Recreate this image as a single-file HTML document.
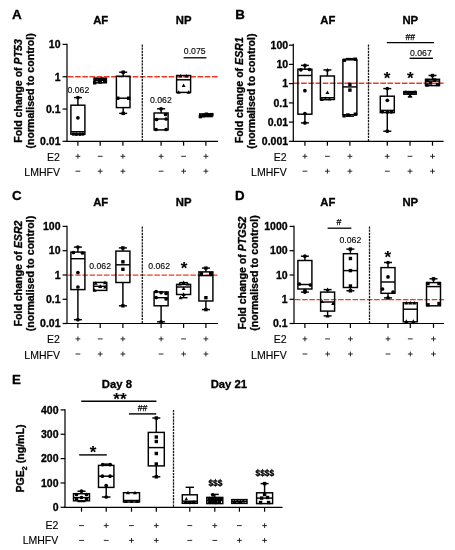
<!DOCTYPE html>
<html><head><meta charset="utf-8"><title>Figure</title>
<style>
html,body{margin:0;padding:0;background:#fff;}
body{width:455px;height:550px;overflow:hidden;}
svg{display:block;filter:blur(0.35px);font-family:"Liberation Sans",sans-serif;fill:#000;}
text[font-weight="bold"]{stroke:#000;stroke-width:0.32px;stroke-linejoin:round;}
text[font-weight="normal"]{stroke:#000;stroke-width:0.12px;}
</style></head><body>
<svg width="455" height="550" viewBox="0 0 455 550">
<rect width="455" height="550" fill="#fff"/>
<text x="11.90" y="18.70" font-size="13.5" font-weight="bold" text-anchor="start" >A</text>
<text x="100.70" y="24.00" font-size="11.3" font-weight="bold" text-anchor="middle" >AF</text>
<text x="183.60" y="24.00" font-size="11.3" font-weight="bold" text-anchor="middle" >NP</text>
<text transform="translate(21.50,90.90) rotate(-90)" font-size="10.6" font-weight="bold" text-anchor="middle">Fold change of <tspan font-style="italic">PT53</tspan></text>
<text transform="translate(33.80,90.90) rotate(-90)" font-size="10.6" font-weight="bold" text-anchor="middle">(normalised to control)</text>
<line x1="67.00" y1="76.75" x2="218.00" y2="76.75" stroke="#ee3a24" stroke-width="1.4" stroke-dasharray="5.6 1.6" stroke-dashoffset="6.3"/>
<line x1="142.30" y1="44.40" x2="142.30" y2="141.30" stroke="#1a1a1a" stroke-width="1.3" stroke-dasharray="2.3 0.85"/>
<line x1="77.90" y1="97.60" x2="77.90" y2="105.20" stroke="#000" stroke-width="1.45" />
<line x1="73.90" y1="97.60" x2="81.90" y2="97.60" stroke="#000" stroke-width="1.45" />
<rect x="70.90" y="105.20" width="14.00" height="29.00" fill="none" stroke="#000" stroke-width="1.45"/>
<line x1="70.90" y1="131.70" x2="84.90" y2="131.70" stroke="#000" stroke-width="1.45" />
<circle cx="77.90" cy="97.60" r="1.85" fill="#000"/>
<circle cx="77.90" cy="117.80" r="1.85" fill="#000"/>
<circle cx="73.40" cy="134.00" r="1.85" fill="#000"/>
<circle cx="76.40" cy="134.20" r="1.85" fill="#000"/>
<circle cx="79.90" cy="134.20" r="1.85" fill="#000"/>
<circle cx="82.90" cy="134.00" r="1.85" fill="#000"/>
<rect x="94.00" y="78.30" width="12.40" height="4.50" fill="none" stroke="#000" stroke-width="1.45"/>
<line x1="94.00" y1="80.40" x2="106.40" y2="80.40" stroke="#000" stroke-width="1.45" />
<rect x="94.00" y="77.60" width="3.40" height="3.40" fill="#000"/>
<rect x="97.50" y="78.80" width="3.40" height="3.40" fill="#000"/>
<rect x="100.50" y="77.50" width="3.40" height="3.40" fill="#000"/>
<rect x="103.50" y="77.90" width="3.40" height="3.40" fill="#000"/>
<rect x="93.00" y="81.10" width="3.40" height="3.40" fill="#000"/>
<rect x="98.50" y="80.30" width="3.40" height="3.40" fill="#000"/>
<rect x="103.00" y="79.30" width="3.40" height="3.40" fill="#000"/>
<line x1="123.20" y1="72.20" x2="123.20" y2="76.20" stroke="#000" stroke-width="1.45" />
<line x1="119.20" y1="72.20" x2="127.20" y2="72.20" stroke="#000" stroke-width="1.45" />
<line x1="123.20" y1="107.60" x2="123.20" y2="113.40" stroke="#000" stroke-width="1.45" />
<line x1="119.20" y1="113.40" x2="127.20" y2="113.40" stroke="#000" stroke-width="1.45" />
<rect x="116.40" y="76.20" width="13.60" height="31.40" fill="none" stroke="#000" stroke-width="1.45"/>
<line x1="116.40" y1="98.20" x2="130.00" y2="98.20" stroke="#000" stroke-width="1.45" />
<rect x="121.50" y="70.50" width="3.40" height="3.40" fill="#000"/>
<rect x="116.00" y="96.50" width="3.40" height="3.40" fill="#000"/>
<rect x="127.00" y="96.50" width="3.40" height="3.40" fill="#000"/>
<rect x="121.50" y="111.70" width="3.40" height="3.40" fill="#000"/>
<line x1="161.10" y1="108.80" x2="161.10" y2="113.00" stroke="#000" stroke-width="1.45" />
<line x1="157.10" y1="108.80" x2="165.10" y2="108.80" stroke="#000" stroke-width="1.45" />
<rect x="154.10" y="113.00" width="14.00" height="16.90" fill="none" stroke="#000" stroke-width="1.45"/>
<line x1="154.10" y1="119.00" x2="168.10" y2="119.00" stroke="#000" stroke-width="1.45" />
<circle cx="161.10" cy="108.80" r="1.85" fill="#000"/>
<circle cx="165.60" cy="114.50" r="1.85" fill="#000"/>
<circle cx="156.60" cy="119.50" r="1.85" fill="#000"/>
<circle cx="166.10" cy="119.00" r="1.85" fill="#000"/>
<circle cx="156.10" cy="129.50" r="1.85" fill="#000"/>
<circle cx="166.10" cy="129.50" r="1.85" fill="#000"/>
<rect x="176.60" y="75.50" width="14.00" height="16.90" fill="none" stroke="#000" stroke-width="1.45"/>
<line x1="176.60" y1="79.80" x2="190.60" y2="79.80" stroke="#000" stroke-width="1.45" />
<polygon points="180.60,74.00 178.60,77.60 182.60,77.60" fill="#000"/>
<polygon points="186.60,74.00 184.60,77.60 188.60,77.60" fill="#000"/>
<polygon points="183.60,83.50 181.60,87.10 185.60,87.10" fill="#000"/>
<polygon points="178.60,90.20 176.60,93.80 180.60,93.80" fill="#000"/>
<polygon points="188.60,90.20 186.60,93.80 190.60,93.80" fill="#000"/>
<rect x="199.70" y="113.90" width="12.40" height="2.70" fill="none" stroke="#000" stroke-width="1.45"/>
<line x1="199.70" y1="115.20" x2="212.10" y2="115.20" stroke="#000" stroke-width="1.45" />
<rect x="198.70" y="114.90" width="3.40" height="3.40" fill="#000"/>
<rect x="201.70" y="113.90" width="3.40" height="3.40" fill="#000"/>
<rect x="204.70" y="112.50" width="3.40" height="3.40" fill="#000"/>
<rect x="207.70" y="113.10" width="3.40" height="3.40" fill="#000"/>
<rect x="210.20" y="112.90" width="3.40" height="3.40" fill="#000"/>
<line x1="67.00" y1="43.80" x2="67.00" y2="141.90" stroke="#000" stroke-width="1.22" />
<line x1="66.40" y1="141.30" x2="218.00" y2="141.30" stroke="#000" stroke-width="1.22" />
<line x1="62.60" y1="44.40" x2="67.00" y2="44.40" stroke="#000" stroke-width="1.22" />
<text x="60.50" y="48.18" font-size="10.5" font-weight="bold" text-anchor="end" >10</text>
<line x1="62.60" y1="76.75" x2="67.00" y2="76.75" stroke="#000" stroke-width="1.22" />
<text x="60.50" y="80.53" font-size="10.5" font-weight="bold" text-anchor="end" >1</text>
<line x1="62.60" y1="109.05" x2="67.00" y2="109.05" stroke="#000" stroke-width="1.22" />
<text x="60.50" y="112.83" font-size="10.5" font-weight="bold" text-anchor="end" >0.1</text>
<line x1="62.60" y1="141.30" x2="67.00" y2="141.30" stroke="#000" stroke-width="1.22" />
<text x="60.50" y="145.08" font-size="10.5" font-weight="bold" text-anchor="end" >0.01</text>
<line x1="77.90" y1="141.30" x2="77.90" y2="145.70" stroke="#000" stroke-width="1.22" />
<line x1="100.20" y1="141.30" x2="100.20" y2="145.70" stroke="#000" stroke-width="1.22" />
<line x1="122.90" y1="141.30" x2="122.90" y2="145.70" stroke="#000" stroke-width="1.22" />
<line x1="161.10" y1="141.30" x2="161.10" y2="145.70" stroke="#000" stroke-width="1.22" />
<line x1="183.60" y1="141.30" x2="183.60" y2="145.70" stroke="#000" stroke-width="1.22" />
<line x1="205.90" y1="141.30" x2="205.90" y2="145.70" stroke="#000" stroke-width="1.22" />
<text x="78.40" y="93.20" font-size="8.7" font-weight="normal" text-anchor="middle" >0.062</text>
<text x="160.90" y="102.80" font-size="8.7" font-weight="normal" text-anchor="middle" >0.062</text>
<text x="194.70" y="53.60" font-size="8.7" font-weight="normal" text-anchor="middle" >0.075</text>
<line x1="183.60" y1="57.80" x2="206.40" y2="57.80" stroke="#000" stroke-width="1.3" />
<text x="59.90" y="160.88" font-size="10.5" font-weight="normal" text-anchor="end" >E2</text>
<text x="59.90" y="175.78" font-size="10.5" font-weight="normal" text-anchor="end" >LMHFV</text>
<line x1="75.50" y1="156.30" x2="80.30" y2="156.30" stroke="#202020" stroke-width="0.95" />
<line x1="77.90" y1="153.90" x2="77.90" y2="158.70" stroke="#202020" stroke-width="0.95" />
<line x1="75.50" y1="171.20" x2="80.30" y2="171.20" stroke="#202020" stroke-width="0.95" />
<line x1="97.80" y1="156.30" x2="102.60" y2="156.30" stroke="#202020" stroke-width="0.95" />
<line x1="97.80" y1="171.20" x2="102.60" y2="171.20" stroke="#202020" stroke-width="0.95" />
<line x1="100.20" y1="168.80" x2="100.20" y2="173.60" stroke="#202020" stroke-width="0.95" />
<line x1="120.50" y1="156.30" x2="125.30" y2="156.30" stroke="#202020" stroke-width="0.95" />
<line x1="122.90" y1="153.90" x2="122.90" y2="158.70" stroke="#202020" stroke-width="0.95" />
<line x1="120.50" y1="171.20" x2="125.30" y2="171.20" stroke="#202020" stroke-width="0.95" />
<line x1="122.90" y1="168.80" x2="122.90" y2="173.60" stroke="#202020" stroke-width="0.95" />
<line x1="158.70" y1="156.30" x2="163.50" y2="156.30" stroke="#202020" stroke-width="0.95" />
<line x1="161.10" y1="153.90" x2="161.10" y2="158.70" stroke="#202020" stroke-width="0.95" />
<line x1="158.70" y1="171.20" x2="163.50" y2="171.20" stroke="#202020" stroke-width="0.95" />
<line x1="181.20" y1="156.30" x2="186.00" y2="156.30" stroke="#202020" stroke-width="0.95" />
<line x1="181.20" y1="171.20" x2="186.00" y2="171.20" stroke="#202020" stroke-width="0.95" />
<line x1="183.60" y1="168.80" x2="183.60" y2="173.60" stroke="#202020" stroke-width="0.95" />
<line x1="203.50" y1="156.30" x2="208.30" y2="156.30" stroke="#202020" stroke-width="0.95" />
<line x1="205.90" y1="153.90" x2="205.90" y2="158.70" stroke="#202020" stroke-width="0.95" />
<line x1="203.50" y1="171.20" x2="208.30" y2="171.20" stroke="#202020" stroke-width="0.95" />
<line x1="205.90" y1="168.80" x2="205.90" y2="173.60" stroke="#202020" stroke-width="0.95" />
<text x="235.30" y="19.00" font-size="13.3" font-weight="bold" text-anchor="start" >B</text>
<text x="327.80" y="24.00" font-size="11.3" font-weight="bold" text-anchor="middle" >AF</text>
<text x="410.30" y="24.00" font-size="11.3" font-weight="bold" text-anchor="middle" >NP</text>
<text transform="translate(243.10,90.20) rotate(-90)" font-size="10.6" font-weight="bold" text-anchor="middle">Fold change of <tspan font-style="italic">ESR1</tspan></text>
<text transform="translate(254.80,91.20) rotate(-90)" font-size="10.6" font-weight="bold" text-anchor="middle">(normalised to control)</text>
<line x1="293.00" y1="83.30" x2="443.60" y2="83.30" stroke="#ee3a24" stroke-width="1.4" stroke-dasharray="5.6 1.6" stroke-dashoffset="6.3"/>
<line x1="368.50" y1="44.40" x2="368.50" y2="141.30" stroke="#1a1a1a" stroke-width="1.3" stroke-dasharray="2.3 0.85"/>
<line x1="304.90" y1="65.40" x2="304.90" y2="69.20" stroke="#000" stroke-width="1.45" />
<line x1="300.90" y1="65.40" x2="308.90" y2="65.40" stroke="#000" stroke-width="1.45" />
<line x1="304.90" y1="114.20" x2="304.90" y2="122.90" stroke="#000" stroke-width="1.45" />
<line x1="300.90" y1="122.90" x2="308.90" y2="122.90" stroke="#000" stroke-width="1.45" />
<rect x="297.90" y="69.20" width="14.00" height="45.00" fill="none" stroke="#000" stroke-width="1.45"/>
<line x1="297.90" y1="75.50" x2="311.90" y2="75.50" stroke="#000" stroke-width="1.45" />
<circle cx="304.90" cy="65.40" r="1.85" fill="#000"/>
<circle cx="309.40" cy="69.50" r="1.85" fill="#000"/>
<circle cx="300.90" cy="69.80" r="1.85" fill="#000"/>
<circle cx="304.90" cy="90.70" r="1.85" fill="#000"/>
<circle cx="304.90" cy="113.50" r="1.85" fill="#000"/>
<circle cx="304.90" cy="122.90" r="1.85" fill="#000"/>
<line x1="327.40" y1="69.90" x2="327.40" y2="76.00" stroke="#000" stroke-width="1.45" />
<line x1="323.40" y1="69.90" x2="331.40" y2="69.90" stroke="#000" stroke-width="1.45" />
<rect x="320.40" y="76.00" width="14.00" height="23.50" fill="none" stroke="#000" stroke-width="1.45"/>
<line x1="320.40" y1="97.70" x2="334.40" y2="97.70" stroke="#000" stroke-width="1.45" />
<polygon points="327.40,67.90 325.40,71.50 329.40,71.50" fill="#000"/>
<polygon points="327.40,90.40 325.40,94.00 329.40,94.00" fill="#000"/>
<polygon points="321.90,97.50 319.90,101.10 323.90,101.10" fill="#000"/>
<polygon points="325.40,96.60 323.40,100.20 327.40,100.20" fill="#000"/>
<polygon points="329.40,96.80 327.40,100.40 331.40,100.40" fill="#000"/>
<line x1="349.90" y1="58.60" x2="349.90" y2="59.80" stroke="#000" stroke-width="1.45" />
<line x1="345.90" y1="58.60" x2="353.90" y2="58.60" stroke="#000" stroke-width="1.45" />
<line x1="349.90" y1="114.70" x2="349.90" y2="116.20" stroke="#000" stroke-width="1.45" />
<line x1="345.90" y1="116.20" x2="353.90" y2="116.20" stroke="#000" stroke-width="1.45" />
<rect x="342.90" y="59.80" width="14.00" height="54.90" fill="none" stroke="#000" stroke-width="1.45"/>
<line x1="342.90" y1="86.90" x2="356.90" y2="86.90" stroke="#000" stroke-width="1.45" />
<rect x="342.70" y="58.50" width="3.40" height="3.40" fill="#000"/>
<rect x="353.70" y="57.50" width="3.40" height="3.40" fill="#000"/>
<rect x="348.20" y="82.60" width="3.40" height="3.40" fill="#000"/>
<rect x="348.20" y="88.40" width="3.40" height="3.40" fill="#000"/>
<rect x="342.40" y="114.10" width="3.40" height="3.40" fill="#000"/>
<rect x="353.70" y="112.50" width="3.40" height="3.40" fill="#000"/>
<rect x="346.20" y="113.30" width="3.40" height="3.40" fill="#000"/>
<line x1="387.30" y1="88.60" x2="387.30" y2="96.20" stroke="#000" stroke-width="1.45" />
<line x1="383.30" y1="88.60" x2="391.30" y2="88.60" stroke="#000" stroke-width="1.45" />
<line x1="387.30" y1="112.60" x2="387.30" y2="131.20" stroke="#000" stroke-width="1.45" />
<line x1="383.30" y1="131.20" x2="391.30" y2="131.20" stroke="#000" stroke-width="1.45" />
<rect x="380.30" y="96.20" width="14.00" height="16.40" fill="none" stroke="#000" stroke-width="1.45"/>
<line x1="380.30" y1="110.40" x2="394.30" y2="110.40" stroke="#000" stroke-width="1.45" />
<circle cx="387.30" cy="88.60" r="1.85" fill="#000"/>
<circle cx="387.30" cy="100.30" r="1.85" fill="#000"/>
<circle cx="382.30" cy="111.60" r="1.85" fill="#000"/>
<circle cx="387.30" cy="112.00" r="1.85" fill="#000"/>
<circle cx="391.30" cy="111.80" r="1.85" fill="#000"/>
<circle cx="387.30" cy="131.20" r="1.85" fill="#000"/>
<line x1="410.00" y1="94.20" x2="410.00" y2="97.00" stroke="#000" stroke-width="1.45" />
<line x1="407.80" y1="97.00" x2="412.20" y2="97.00" stroke="#000" stroke-width="1.45" />
<rect x="403.80" y="91.60" width="12.40" height="2.60" fill="none" stroke="#000" stroke-width="1.45"/>
<line x1="403.80" y1="92.60" x2="416.20" y2="92.60" stroke="#000" stroke-width="1.45" />
<polygon points="406.00,90.00 404.00,93.60 408.00,93.60" fill="#000"/>
<polygon points="409.00,90.60 407.00,94.20 411.00,94.20" fill="#000"/>
<polygon points="412.00,90.80 410.00,94.40 414.00,94.40" fill="#000"/>
<polygon points="415.00,90.00 413.00,93.60 417.00,93.60" fill="#000"/>
<polygon points="410.00,93.50 408.00,97.10 412.00,97.10" fill="#000"/>
<line x1="432.50" y1="75.50" x2="432.50" y2="79.30" stroke="#000" stroke-width="1.45" />
<line x1="428.50" y1="75.50" x2="436.50" y2="75.50" stroke="#000" stroke-width="1.45" />
<rect x="425.50" y="79.30" width="14.00" height="6.30" fill="none" stroke="#000" stroke-width="1.45"/>
<line x1="425.50" y1="81.00" x2="439.50" y2="81.00" stroke="#000" stroke-width="1.45" />
<rect x="430.80" y="73.80" width="3.40" height="3.40" fill="#000"/>
<rect x="425.80" y="78.80" width="3.40" height="3.40" fill="#000"/>
<rect x="425.30" y="83.30" width="3.40" height="3.40" fill="#000"/>
<rect x="435.80" y="82.80" width="3.40" height="3.40" fill="#000"/>
<rect x="432.80" y="78.30" width="3.40" height="3.40" fill="#000"/>
<rect x="428.80" y="81.30" width="3.40" height="3.40" fill="#000"/>
<line x1="293.30" y1="43.80" x2="293.30" y2="141.90" stroke="#000" stroke-width="1.22" />
<line x1="292.70" y1="141.30" x2="443.60" y2="141.30" stroke="#000" stroke-width="1.22" />
<line x1="288.90" y1="45.20" x2="293.30" y2="45.20" stroke="#000" stroke-width="1.22" />
<text x="288.10" y="48.98" font-size="10.5" font-weight="bold" text-anchor="end" >100</text>
<line x1="288.90" y1="64.40" x2="293.30" y2="64.40" stroke="#000" stroke-width="1.22" />
<text x="288.10" y="68.18" font-size="10.5" font-weight="bold" text-anchor="end" >10</text>
<line x1="288.90" y1="83.60" x2="293.30" y2="83.60" stroke="#000" stroke-width="1.22" />
<text x="288.10" y="87.38" font-size="10.5" font-weight="bold" text-anchor="end" >1</text>
<line x1="288.90" y1="102.90" x2="293.30" y2="102.90" stroke="#000" stroke-width="1.22" />
<text x="288.10" y="106.68" font-size="10.5" font-weight="bold" text-anchor="end" >0.1</text>
<line x1="288.90" y1="122.10" x2="293.30" y2="122.10" stroke="#000" stroke-width="1.22" />
<text x="288.10" y="125.88" font-size="10.5" font-weight="bold" text-anchor="end" >0.01</text>
<line x1="288.90" y1="141.30" x2="293.30" y2="141.30" stroke="#000" stroke-width="1.22" />
<text x="288.10" y="145.08" font-size="10.5" font-weight="bold" text-anchor="end" >0.001</text>
<line x1="304.90" y1="141.30" x2="304.90" y2="145.70" stroke="#000" stroke-width="1.22" />
<line x1="327.40" y1="141.30" x2="327.40" y2="145.70" stroke="#000" stroke-width="1.22" />
<line x1="349.90" y1="141.30" x2="349.90" y2="145.70" stroke="#000" stroke-width="1.22" />
<line x1="387.30" y1="141.30" x2="387.30" y2="145.70" stroke="#000" stroke-width="1.22" />
<line x1="410.00" y1="141.30" x2="410.00" y2="145.70" stroke="#000" stroke-width="1.22" />
<line x1="432.50" y1="141.30" x2="432.50" y2="145.70" stroke="#000" stroke-width="1.22" />
<text x="387.20" y="83.59" font-size="17" font-weight="bold" text-anchor="middle" style="stroke-width:0.1px" letter-spacing="0.3">*</text>
<text x="410.40" y="83.59" font-size="17" font-weight="bold" text-anchor="middle" style="stroke-width:0.1px" letter-spacing="0.3">*</text>
<text x="410.30" y="40.00" font-size="8.7" font-weight="normal" text-anchor="middle" style="stroke-width:0.25px">##</text>
<line x1="386.80" y1="42.60" x2="434.00" y2="42.60" stroke="#000" stroke-width="1.4" />
<text x="420.90" y="55.70" font-size="8.7" font-weight="normal" text-anchor="middle" >0.067</text>
<line x1="409.60" y1="58.30" x2="433.00" y2="58.30" stroke="#000" stroke-width="1.4" />
<text x="286.70" y="160.88" font-size="10.5" font-weight="normal" text-anchor="end" >E2</text>
<text x="286.70" y="175.78" font-size="10.5" font-weight="normal" text-anchor="end" >LMHFV</text>
<line x1="302.50" y1="156.30" x2="307.30" y2="156.30" stroke="#202020" stroke-width="0.95" />
<line x1="304.90" y1="153.90" x2="304.90" y2="158.70" stroke="#202020" stroke-width="0.95" />
<line x1="302.50" y1="171.20" x2="307.30" y2="171.20" stroke="#202020" stroke-width="0.95" />
<line x1="325.00" y1="156.30" x2="329.80" y2="156.30" stroke="#202020" stroke-width="0.95" />
<line x1="325.00" y1="171.20" x2="329.80" y2="171.20" stroke="#202020" stroke-width="0.95" />
<line x1="327.40" y1="168.80" x2="327.40" y2="173.60" stroke="#202020" stroke-width="0.95" />
<line x1="347.50" y1="156.30" x2="352.30" y2="156.30" stroke="#202020" stroke-width="0.95" />
<line x1="349.90" y1="153.90" x2="349.90" y2="158.70" stroke="#202020" stroke-width="0.95" />
<line x1="347.50" y1="171.20" x2="352.30" y2="171.20" stroke="#202020" stroke-width="0.95" />
<line x1="349.90" y1="168.80" x2="349.90" y2="173.60" stroke="#202020" stroke-width="0.95" />
<line x1="384.90" y1="156.30" x2="389.70" y2="156.30" stroke="#202020" stroke-width="0.95" />
<line x1="387.30" y1="153.90" x2="387.30" y2="158.70" stroke="#202020" stroke-width="0.95" />
<line x1="384.90" y1="171.20" x2="389.70" y2="171.20" stroke="#202020" stroke-width="0.95" />
<line x1="407.60" y1="156.30" x2="412.40" y2="156.30" stroke="#202020" stroke-width="0.95" />
<line x1="407.60" y1="171.20" x2="412.40" y2="171.20" stroke="#202020" stroke-width="0.95" />
<line x1="410.00" y1="168.80" x2="410.00" y2="173.60" stroke="#202020" stroke-width="0.95" />
<line x1="430.10" y1="156.30" x2="434.90" y2="156.30" stroke="#202020" stroke-width="0.95" />
<line x1="432.50" y1="153.90" x2="432.50" y2="158.70" stroke="#202020" stroke-width="0.95" />
<line x1="430.10" y1="171.20" x2="434.90" y2="171.20" stroke="#202020" stroke-width="0.95" />
<line x1="432.50" y1="168.80" x2="432.50" y2="173.60" stroke="#202020" stroke-width="0.95" />
<text x="12.00" y="200.40" font-size="13.3" font-weight="bold" text-anchor="start" >C</text>
<text x="100.70" y="206.00" font-size="11.3" font-weight="bold" text-anchor="middle" >AF</text>
<text x="183.60" y="206.00" font-size="11.3" font-weight="bold" text-anchor="middle" >NP</text>
<text transform="translate(21.50,273.50) rotate(-90)" font-size="10.6" font-weight="bold" text-anchor="middle">Fold change of <tspan font-style="italic">ESR2</tspan></text>
<text transform="translate(33.80,273.50) rotate(-90)" font-size="10.6" font-weight="bold" text-anchor="middle">(normalised to control)</text>
<line x1="67.00" y1="275.10" x2="218.00" y2="275.10" stroke="#ee3a24" stroke-width="1.4" stroke-dasharray="5.6 1.6" stroke-dashoffset="6.3"/>
<line x1="142.30" y1="226.40" x2="142.30" y2="323.50" stroke="#1a1a1a" stroke-width="1.3" stroke-dasharray="2.3 0.85"/>
<line x1="77.90" y1="247.10" x2="77.90" y2="252.10" stroke="#000" stroke-width="1.45" />
<line x1="73.90" y1="247.10" x2="81.90" y2="247.10" stroke="#000" stroke-width="1.45" />
<line x1="77.90" y1="289.60" x2="77.90" y2="319.70" stroke="#000" stroke-width="1.45" />
<line x1="73.90" y1="319.70" x2="81.90" y2="319.70" stroke="#000" stroke-width="1.45" />
<rect x="70.90" y="252.10" width="14.00" height="37.50" fill="none" stroke="#000" stroke-width="1.45"/>
<line x1="70.90" y1="258.70" x2="84.90" y2="258.70" stroke="#000" stroke-width="1.45" />
<circle cx="77.90" cy="247.10" r="1.85" fill="#000"/>
<circle cx="73.40" cy="252.50" r="1.85" fill="#000"/>
<circle cx="82.40" cy="253.00" r="1.85" fill="#000"/>
<circle cx="77.90" cy="272.60" r="1.85" fill="#000"/>
<circle cx="77.90" cy="287.00" r="1.85" fill="#000"/>
<circle cx="77.90" cy="319.70" r="1.85" fill="#000"/>
<rect x="93.60" y="282.40" width="13.20" height="8.00" fill="none" stroke="#000" stroke-width="1.45"/>
<line x1="93.60" y1="286.30" x2="106.80" y2="286.30" stroke="#000" stroke-width="1.45" />
<polygon points="95.70,281.20 93.70,284.80 97.70,284.80" fill="#000"/>
<polygon points="105.00,280.60 103.00,284.20 107.00,284.20" fill="#000"/>
<polygon points="94.70,288.20 92.70,291.80 96.70,291.80" fill="#000"/>
<polygon points="105.20,285.00 103.20,288.60 107.20,288.60" fill="#000"/>
<polygon points="100.20,284.30 98.20,287.90 102.20,287.90" fill="#000"/>
<line x1="122.90" y1="247.90" x2="122.90" y2="251.10" stroke="#000" stroke-width="1.45" />
<line x1="118.90" y1="247.90" x2="126.90" y2="247.90" stroke="#000" stroke-width="1.45" />
<line x1="122.90" y1="282.50" x2="122.90" y2="305.80" stroke="#000" stroke-width="1.45" />
<line x1="118.90" y1="305.80" x2="126.90" y2="305.80" stroke="#000" stroke-width="1.45" />
<rect x="115.90" y="251.10" width="14.00" height="31.40" fill="none" stroke="#000" stroke-width="1.45"/>
<line x1="115.90" y1="264.80" x2="129.90" y2="264.80" stroke="#000" stroke-width="1.45" />
<rect x="121.20" y="246.20" width="3.40" height="3.40" fill="#000"/>
<rect x="121.20" y="260.10" width="3.40" height="3.40" fill="#000"/>
<rect x="121.20" y="267.60" width="3.40" height="3.40" fill="#000"/>
<rect x="121.20" y="304.10" width="3.40" height="3.40" fill="#000"/>
<line x1="161.10" y1="305.80" x2="161.10" y2="321.80" stroke="#000" stroke-width="1.45" />
<line x1="157.10" y1="321.80" x2="165.10" y2="321.80" stroke="#000" stroke-width="1.45" />
<rect x="154.10" y="291.90" width="14.00" height="13.90" fill="none" stroke="#000" stroke-width="1.45"/>
<line x1="154.10" y1="297.70" x2="168.10" y2="297.70" stroke="#000" stroke-width="1.45" />
<circle cx="156.10" cy="291.50" r="1.85" fill="#000"/>
<circle cx="161.10" cy="292.60" r="1.85" fill="#000"/>
<circle cx="166.10" cy="293.50" r="1.85" fill="#000"/>
<circle cx="156.10" cy="297.50" r="1.85" fill="#000"/>
<circle cx="166.10" cy="299.00" r="1.85" fill="#000"/>
<circle cx="161.10" cy="321.80" r="1.85" fill="#000"/>
<line x1="183.60" y1="282.60" x2="183.60" y2="284.40" stroke="#000" stroke-width="1.45" />
<line x1="179.60" y1="282.60" x2="187.60" y2="282.60" stroke="#000" stroke-width="1.45" />
<line x1="183.60" y1="294.50" x2="183.60" y2="297.70" stroke="#000" stroke-width="1.45" />
<line x1="179.60" y1="297.70" x2="187.60" y2="297.70" stroke="#000" stroke-width="1.45" />
<rect x="176.60" y="284.40" width="14.00" height="10.10" fill="none" stroke="#000" stroke-width="1.45"/>
<line x1="176.60" y1="287.00" x2="190.60" y2="287.00" stroke="#000" stroke-width="1.45" />
<polygon points="183.60,280.60 181.60,284.20 185.60,284.20" fill="#000"/>
<polygon points="179.60,282.00 177.60,285.60 181.60,285.60" fill="#000"/>
<polygon points="187.60,282.00 185.60,285.60 189.60,285.60" fill="#000"/>
<polygon points="183.60,286.50 181.60,290.10 185.60,290.10" fill="#000"/>
<polygon points="183.60,292.30 181.60,295.90 185.60,295.90" fill="#000"/>
<polygon points="180.60,295.70 178.60,299.30 182.60,299.30" fill="#000"/>
<line x1="205.90" y1="268.10" x2="205.90" y2="271.90" stroke="#000" stroke-width="1.45" />
<line x1="201.90" y1="268.10" x2="209.90" y2="268.10" stroke="#000" stroke-width="1.45" />
<line x1="205.90" y1="301.00" x2="205.90" y2="309.60" stroke="#000" stroke-width="1.45" />
<line x1="201.90" y1="309.60" x2="209.90" y2="309.60" stroke="#000" stroke-width="1.45" />
<rect x="198.90" y="271.90" width="14.00" height="29.10" fill="none" stroke="#000" stroke-width="1.45"/>
<line x1="198.90" y1="275.60" x2="212.90" y2="275.60" stroke="#000" stroke-width="1.45" />
<rect x="204.20" y="266.40" width="3.40" height="3.40" fill="#000"/>
<rect x="199.70" y="271.90" width="3.40" height="3.40" fill="#000"/>
<rect x="209.00" y="271.90" width="3.40" height="3.40" fill="#000"/>
<rect x="204.20" y="296.00" width="3.40" height="3.40" fill="#000"/>
<rect x="204.20" y="307.90" width="3.40" height="3.40" fill="#000"/>
<line x1="67.00" y1="225.80" x2="67.00" y2="324.10" stroke="#000" stroke-width="1.22" />
<line x1="66.40" y1="323.50" x2="218.00" y2="323.50" stroke="#000" stroke-width="1.22" />
<line x1="62.60" y1="226.40" x2="67.00" y2="226.40" stroke="#000" stroke-width="1.22" />
<text x="60.50" y="230.18" font-size="10.5" font-weight="bold" text-anchor="end" >100</text>
<line x1="62.60" y1="250.70" x2="67.00" y2="250.70" stroke="#000" stroke-width="1.22" />
<text x="60.50" y="254.48" font-size="10.5" font-weight="bold" text-anchor="end" >10</text>
<line x1="62.60" y1="275.00" x2="67.00" y2="275.00" stroke="#000" stroke-width="1.22" />
<text x="60.50" y="278.78" font-size="10.5" font-weight="bold" text-anchor="end" >1</text>
<line x1="62.60" y1="299.30" x2="67.00" y2="299.30" stroke="#000" stroke-width="1.22" />
<text x="60.50" y="303.08" font-size="10.5" font-weight="bold" text-anchor="end" >0.1</text>
<line x1="62.60" y1="323.50" x2="67.00" y2="323.50" stroke="#000" stroke-width="1.22" />
<text x="60.50" y="327.28" font-size="10.5" font-weight="bold" text-anchor="end" >0.01</text>
<line x1="77.90" y1="323.50" x2="77.90" y2="327.90" stroke="#000" stroke-width="1.22" />
<line x1="100.20" y1="323.50" x2="100.20" y2="327.90" stroke="#000" stroke-width="1.22" />
<line x1="122.90" y1="323.50" x2="122.90" y2="327.90" stroke="#000" stroke-width="1.22" />
<line x1="161.10" y1="323.50" x2="161.10" y2="327.90" stroke="#000" stroke-width="1.22" />
<line x1="183.60" y1="323.50" x2="183.60" y2="327.90" stroke="#000" stroke-width="1.22" />
<line x1="205.90" y1="323.50" x2="205.90" y2="327.90" stroke="#000" stroke-width="1.22" />
<text x="100.10" y="269.30" font-size="8.7" font-weight="normal" text-anchor="middle" >0.062</text>
<text x="159.10" y="268.90" font-size="8.7" font-weight="normal" text-anchor="middle" >0.062</text>
<text x="184.20" y="274.10" font-size="17" font-weight="bold" text-anchor="middle" style="stroke-width:0.1px" letter-spacing="0.3">*</text>
<text x="59.90" y="343.48" font-size="10.5" font-weight="normal" text-anchor="end" >E2</text>
<text x="59.90" y="358.58" font-size="10.5" font-weight="normal" text-anchor="end" >LMHFV</text>
<line x1="75.50" y1="338.90" x2="80.30" y2="338.90" stroke="#202020" stroke-width="0.95" />
<line x1="77.90" y1="336.50" x2="77.90" y2="341.30" stroke="#202020" stroke-width="0.95" />
<line x1="75.50" y1="354.00" x2="80.30" y2="354.00" stroke="#202020" stroke-width="0.95" />
<line x1="97.80" y1="338.90" x2="102.60" y2="338.90" stroke="#202020" stroke-width="0.95" />
<line x1="97.80" y1="354.00" x2="102.60" y2="354.00" stroke="#202020" stroke-width="0.95" />
<line x1="100.20" y1="351.60" x2="100.20" y2="356.40" stroke="#202020" stroke-width="0.95" />
<line x1="120.50" y1="338.90" x2="125.30" y2="338.90" stroke="#202020" stroke-width="0.95" />
<line x1="122.90" y1="336.50" x2="122.90" y2="341.30" stroke="#202020" stroke-width="0.95" />
<line x1="120.50" y1="354.00" x2="125.30" y2="354.00" stroke="#202020" stroke-width="0.95" />
<line x1="122.90" y1="351.60" x2="122.90" y2="356.40" stroke="#202020" stroke-width="0.95" />
<line x1="158.70" y1="338.90" x2="163.50" y2="338.90" stroke="#202020" stroke-width="0.95" />
<line x1="161.10" y1="336.50" x2="161.10" y2="341.30" stroke="#202020" stroke-width="0.95" />
<line x1="158.70" y1="354.00" x2="163.50" y2="354.00" stroke="#202020" stroke-width="0.95" />
<line x1="181.20" y1="338.90" x2="186.00" y2="338.90" stroke="#202020" stroke-width="0.95" />
<line x1="181.20" y1="354.00" x2="186.00" y2="354.00" stroke="#202020" stroke-width="0.95" />
<line x1="183.60" y1="351.60" x2="183.60" y2="356.40" stroke="#202020" stroke-width="0.95" />
<line x1="203.50" y1="338.90" x2="208.30" y2="338.90" stroke="#202020" stroke-width="0.95" />
<line x1="205.90" y1="336.50" x2="205.90" y2="341.30" stroke="#202020" stroke-width="0.95" />
<line x1="203.50" y1="354.00" x2="208.30" y2="354.00" stroke="#202020" stroke-width="0.95" />
<line x1="205.90" y1="351.60" x2="205.90" y2="356.40" stroke="#202020" stroke-width="0.95" />
<text x="235.00" y="200.40" font-size="13.3" font-weight="bold" text-anchor="start" >D</text>
<text x="327.80" y="206.00" font-size="11.3" font-weight="bold" text-anchor="middle" >AF</text>
<text x="410.30" y="206.00" font-size="11.3" font-weight="bold" text-anchor="middle" >NP</text>
<text transform="translate(245.60,273.00) rotate(-90)" font-size="10.6" font-weight="bold" text-anchor="middle">Fold change of <tspan font-style="italic">PTGS2</tspan></text>
<text transform="translate(257.90,273.00) rotate(-90)" font-size="10.6" font-weight="bold" text-anchor="middle">(normalised to control)</text>
<line x1="294.00" y1="299.60" x2="444.00" y2="299.60" stroke="#ee3a24" stroke-width="1.4" stroke-dasharray="5.6 1.6" stroke-dashoffset="6.3"/>
<line x1="369.50" y1="226.40" x2="369.50" y2="323.50" stroke="#1a1a1a" stroke-width="1.3" stroke-dasharray="2.3 0.85"/>
<line x1="304.90" y1="256.20" x2="304.90" y2="260.50" stroke="#000" stroke-width="1.45" />
<line x1="300.90" y1="256.20" x2="308.90" y2="256.20" stroke="#000" stroke-width="1.45" />
<line x1="304.90" y1="289.00" x2="304.90" y2="292.10" stroke="#000" stroke-width="1.45" />
<line x1="300.90" y1="292.10" x2="308.90" y2="292.10" stroke="#000" stroke-width="1.45" />
<rect x="297.90" y="260.50" width="14.00" height="28.50" fill="none" stroke="#000" stroke-width="1.45"/>
<line x1="297.90" y1="284.50" x2="311.90" y2="284.50" stroke="#000" stroke-width="1.45" />
<circle cx="304.90" cy="256.20" r="1.85" fill="#000"/>
<circle cx="299.40" cy="284.00" r="1.85" fill="#000"/>
<circle cx="310.40" cy="285.00" r="1.85" fill="#000"/>
<circle cx="304.90" cy="290.50" r="1.85" fill="#000"/>
<circle cx="304.90" cy="292.10" r="1.85" fill="#000"/>
<line x1="327.60" y1="289.60" x2="327.60" y2="292.10" stroke="#000" stroke-width="1.45" />
<line x1="323.60" y1="289.60" x2="331.60" y2="289.60" stroke="#000" stroke-width="1.45" />
<line x1="327.60" y1="311.10" x2="327.60" y2="315.90" stroke="#000" stroke-width="1.45" />
<line x1="323.60" y1="315.90" x2="331.60" y2="315.90" stroke="#000" stroke-width="1.45" />
<rect x="320.60" y="292.10" width="14.00" height="19.00" fill="none" stroke="#000" stroke-width="1.45"/>
<line x1="320.60" y1="302.00" x2="334.60" y2="302.00" stroke="#000" stroke-width="1.45" />
<polygon points="327.60,287.60 325.60,291.20 329.60,291.20" fill="#000"/>
<polygon points="322.10,299.50 320.10,303.10 324.10,303.10" fill="#000"/>
<polygon points="333.10,301.50 331.10,305.10 335.10,305.10" fill="#000"/>
<polygon points="327.60,313.90 325.60,317.50 329.60,317.50" fill="#000"/>
<line x1="350.40" y1="249.10" x2="350.40" y2="253.70" stroke="#000" stroke-width="1.45" />
<line x1="346.40" y1="249.10" x2="354.40" y2="249.10" stroke="#000" stroke-width="1.45" />
<line x1="350.40" y1="287.50" x2="350.40" y2="290.80" stroke="#000" stroke-width="1.45" />
<line x1="346.40" y1="290.80" x2="354.40" y2="290.80" stroke="#000" stroke-width="1.45" />
<rect x="343.40" y="253.70" width="14.00" height="33.80" fill="none" stroke="#000" stroke-width="1.45"/>
<line x1="343.40" y1="270.60" x2="357.40" y2="270.60" stroke="#000" stroke-width="1.45" />
<rect x="348.70" y="247.40" width="3.40" height="3.40" fill="#000"/>
<rect x="348.70" y="256.80" width="3.40" height="3.40" fill="#000"/>
<rect x="348.70" y="268.90" width="3.40" height="3.40" fill="#000"/>
<rect x="348.70" y="284.30" width="3.40" height="3.40" fill="#000"/>
<rect x="348.70" y="289.10" width="3.40" height="3.40" fill="#000"/>
<line x1="388.00" y1="262.50" x2="388.00" y2="267.60" stroke="#000" stroke-width="1.45" />
<line x1="384.00" y1="262.50" x2="392.00" y2="262.50" stroke="#000" stroke-width="1.45" />
<line x1="388.00" y1="293.30" x2="388.00" y2="297.90" stroke="#000" stroke-width="1.45" />
<line x1="384.00" y1="297.90" x2="392.00" y2="297.90" stroke="#000" stroke-width="1.45" />
<rect x="381.00" y="267.60" width="14.00" height="25.70" fill="none" stroke="#000" stroke-width="1.45"/>
<line x1="381.00" y1="282.00" x2="395.00" y2="282.00" stroke="#000" stroke-width="1.45" />
<circle cx="388.00" cy="262.50" r="1.85" fill="#000"/>
<circle cx="388.00" cy="276.90" r="1.85" fill="#000"/>
<circle cx="382.50" cy="289.00" r="1.85" fill="#000"/>
<circle cx="393.00" cy="292.00" r="1.85" fill="#000"/>
<circle cx="388.00" cy="297.90" r="1.85" fill="#000"/>
<rect x="403.30" y="302.80" width="14.00" height="19.00" fill="none" stroke="#000" stroke-width="1.45"/>
<line x1="403.30" y1="309.20" x2="417.30" y2="309.20" stroke="#000" stroke-width="1.45" />
<polygon points="406.30,301.00 404.30,304.60 408.30,304.60" fill="#000"/>
<polygon points="410.30,301.00 408.30,304.60 412.30,304.60" fill="#000"/>
<polygon points="414.30,301.00 412.30,304.60 416.30,304.60" fill="#000"/>
<polygon points="406.30,319.30 404.30,322.90 408.30,322.90" fill="#000"/>
<polygon points="413.30,319.30 411.30,322.90 415.30,322.90" fill="#000"/>
<line x1="433.50" y1="278.80" x2="433.50" y2="282.60" stroke="#000" stroke-width="1.45" />
<line x1="429.50" y1="278.80" x2="437.50" y2="278.80" stroke="#000" stroke-width="1.45" />
<rect x="426.50" y="282.60" width="14.00" height="23.20" fill="none" stroke="#000" stroke-width="1.45"/>
<line x1="426.50" y1="286.60" x2="440.50" y2="286.60" stroke="#000" stroke-width="1.45" />
<rect x="431.80" y="277.10" width="3.40" height="3.40" fill="#000"/>
<rect x="426.30" y="281.80" width="3.40" height="3.40" fill="#000"/>
<rect x="437.30" y="281.80" width="3.40" height="3.40" fill="#000"/>
<rect x="426.30" y="303.10" width="3.40" height="3.40" fill="#000"/>
<rect x="437.30" y="301.80" width="3.40" height="3.40" fill="#000"/>
<line x1="294.00" y1="225.80" x2="294.00" y2="324.10" stroke="#000" stroke-width="1.22" />
<line x1="293.40" y1="323.50" x2="444.00" y2="323.50" stroke="#000" stroke-width="1.22" />
<line x1="289.60" y1="226.40" x2="294.00" y2="226.40" stroke="#000" stroke-width="1.22" />
<text x="287.60" y="230.18" font-size="10.5" font-weight="bold" text-anchor="end" >1000</text>
<line x1="289.60" y1="250.70" x2="294.00" y2="250.70" stroke="#000" stroke-width="1.22" />
<text x="287.60" y="254.48" font-size="10.5" font-weight="bold" text-anchor="end" >100</text>
<line x1="289.60" y1="275.00" x2="294.00" y2="275.00" stroke="#000" stroke-width="1.22" />
<text x="287.60" y="278.78" font-size="10.5" font-weight="bold" text-anchor="end" >10</text>
<line x1="289.60" y1="299.30" x2="294.00" y2="299.30" stroke="#000" stroke-width="1.22" />
<text x="287.60" y="303.08" font-size="10.5" font-weight="bold" text-anchor="end" >1</text>
<line x1="289.60" y1="323.50" x2="294.00" y2="323.50" stroke="#000" stroke-width="1.22" />
<text x="287.60" y="327.28" font-size="10.5" font-weight="bold" text-anchor="end" >0.1</text>
<line x1="304.90" y1="323.50" x2="304.90" y2="327.90" stroke="#000" stroke-width="1.22" />
<line x1="327.60" y1="323.50" x2="327.60" y2="327.90" stroke="#000" stroke-width="1.22" />
<line x1="350.40" y1="323.50" x2="350.40" y2="327.90" stroke="#000" stroke-width="1.22" />
<line x1="388.00" y1="323.50" x2="388.00" y2="327.90" stroke="#000" stroke-width="1.22" />
<line x1="410.30" y1="323.50" x2="410.30" y2="327.90" stroke="#000" stroke-width="1.22" />
<line x1="433.50" y1="323.50" x2="433.50" y2="327.90" stroke="#000" stroke-width="1.22" />
<text x="338.80" y="224.80" font-size="8.7" font-weight="normal" text-anchor="middle" style="stroke-width:0.25px">#</text>
<line x1="327.60" y1="228.20" x2="351.40" y2="228.20" stroke="#000" stroke-width="1.3" />
<text x="350.40" y="242.80" font-size="8.7" font-weight="normal" text-anchor="middle" >0.062</text>
<text x="388.00" y="263.30" font-size="17" font-weight="bold" text-anchor="middle" style="stroke-width:0.1px" letter-spacing="0.3">*</text>
<text x="286.70" y="343.48" font-size="10.5" font-weight="normal" text-anchor="end" >E2</text>
<text x="286.70" y="358.58" font-size="10.5" font-weight="normal" text-anchor="end" >LMHFV</text>
<line x1="302.50" y1="338.90" x2="307.30" y2="338.90" stroke="#202020" stroke-width="0.95" />
<line x1="304.90" y1="336.50" x2="304.90" y2="341.30" stroke="#202020" stroke-width="0.95" />
<line x1="302.50" y1="354.00" x2="307.30" y2="354.00" stroke="#202020" stroke-width="0.95" />
<line x1="325.20" y1="338.90" x2="330.00" y2="338.90" stroke="#202020" stroke-width="0.95" />
<line x1="325.20" y1="354.00" x2="330.00" y2="354.00" stroke="#202020" stroke-width="0.95" />
<line x1="327.60" y1="351.60" x2="327.60" y2="356.40" stroke="#202020" stroke-width="0.95" />
<line x1="348.00" y1="338.90" x2="352.80" y2="338.90" stroke="#202020" stroke-width="0.95" />
<line x1="350.40" y1="336.50" x2="350.40" y2="341.30" stroke="#202020" stroke-width="0.95" />
<line x1="348.00" y1="354.00" x2="352.80" y2="354.00" stroke="#202020" stroke-width="0.95" />
<line x1="350.40" y1="351.60" x2="350.40" y2="356.40" stroke="#202020" stroke-width="0.95" />
<line x1="385.60" y1="338.90" x2="390.40" y2="338.90" stroke="#202020" stroke-width="0.95" />
<line x1="388.00" y1="336.50" x2="388.00" y2="341.30" stroke="#202020" stroke-width="0.95" />
<line x1="385.60" y1="354.00" x2="390.40" y2="354.00" stroke="#202020" stroke-width="0.95" />
<line x1="407.90" y1="338.90" x2="412.70" y2="338.90" stroke="#202020" stroke-width="0.95" />
<line x1="407.90" y1="354.00" x2="412.70" y2="354.00" stroke="#202020" stroke-width="0.95" />
<line x1="410.30" y1="351.60" x2="410.30" y2="356.40" stroke="#202020" stroke-width="0.95" />
<line x1="431.10" y1="338.90" x2="435.90" y2="338.90" stroke="#202020" stroke-width="0.95" />
<line x1="433.50" y1="336.50" x2="433.50" y2="341.30" stroke="#202020" stroke-width="0.95" />
<line x1="431.10" y1="354.00" x2="435.90" y2="354.00" stroke="#202020" stroke-width="0.95" />
<line x1="433.50" y1="351.60" x2="433.50" y2="356.40" stroke="#202020" stroke-width="0.95" />
<text x="12.00" y="383.50" font-size="13.3" font-weight="bold" text-anchor="start" >E</text>
<text x="116.90" y="387.50" font-size="11.3" font-weight="bold" text-anchor="middle" >Day 8</text>
<text x="228.90" y="387.50" font-size="11.3" font-weight="bold" text-anchor="middle" >Day 21</text>
<text transform="translate(24.40,458.50) rotate(-90)" font-size="10.6" font-weight="bold" text-anchor="middle">PGE<tspan font-size="7" dy="2.2">2</tspan><tspan dy="-2.2"> (ng/mL)</tspan></text>
<line x1="173.50" y1="409.90" x2="173.50" y2="507.30" stroke="#1a1a1a" stroke-width="1.3" stroke-dasharray="2.3 0.85"/>
<line x1="81.50" y1="491.20" x2="81.50" y2="493.70" stroke="#000" stroke-width="1.45" />
<line x1="77.50" y1="491.20" x2="85.50" y2="491.20" stroke="#000" stroke-width="1.45" />
<line x1="81.50" y1="500.80" x2="81.50" y2="501.50" stroke="#000" stroke-width="1.45" />
<line x1="77.50" y1="501.50" x2="85.50" y2="501.50" stroke="#000" stroke-width="1.45" />
<rect x="73.50" y="493.70" width="16.00" height="7.10" fill="none" stroke="#000" stroke-width="1.45"/>
<line x1="73.50" y1="497.60" x2="89.50" y2="497.60" stroke="#000" stroke-width="1.45" />
<circle cx="81.50" cy="491.20" r="1.85" fill="#000"/>
<circle cx="76.50" cy="494.50" r="1.85" fill="#000"/>
<circle cx="86.50" cy="494.50" r="1.85" fill="#000"/>
<circle cx="76.50" cy="499.00" r="1.85" fill="#000"/>
<circle cx="81.50" cy="497.50" r="1.85" fill="#000"/>
<circle cx="86.50" cy="499.00" r="1.85" fill="#000"/>
<line x1="106.20" y1="464.10" x2="106.20" y2="465.40" stroke="#000" stroke-width="1.45" />
<line x1="101.90" y1="464.10" x2="110.50" y2="464.10" stroke="#000" stroke-width="1.45" />
<line x1="106.20" y1="487.40" x2="106.20" y2="497.00" stroke="#000" stroke-width="1.45" />
<line x1="101.90" y1="497.00" x2="110.50" y2="497.00" stroke="#000" stroke-width="1.45" />
<rect x="98.50" y="465.40" width="15.40" height="22.00" fill="none" stroke="#000" stroke-width="1.45"/>
<line x1="98.50" y1="476.20" x2="113.90" y2="476.20" stroke="#000" stroke-width="1.45" />
<circle cx="102.70" cy="464.60" r="1.85" fill="#000"/>
<circle cx="110.20" cy="464.60" r="1.85" fill="#000"/>
<circle cx="102.40" cy="476.20" r="1.85" fill="#000"/>
<circle cx="110.00" cy="476.20" r="1.85" fill="#000"/>
<circle cx="106.20" cy="485.60" r="1.85" fill="#000"/>
<circle cx="106.20" cy="497.00" r="1.85" fill="#000"/>
<rect x="123.50" y="492.70" width="16.00" height="9.30" fill="none" stroke="#000" stroke-width="1.45"/>
<line x1="123.50" y1="500.50" x2="139.50" y2="500.50" stroke="#000" stroke-width="1.45" />
<polygon points="128.00,490.70 126.00,494.30 130.00,494.30" fill="#000"/>
<polygon points="135.00,490.70 133.00,494.30 137.00,494.30" fill="#000"/>
<polygon points="126.00,499.50 124.00,503.10 128.00,503.10" fill="#000"/>
<polygon points="131.50,499.50 129.50,503.10 133.50,503.10" fill="#000"/>
<polygon points="137.00,499.50 135.00,503.10 139.00,503.10" fill="#000"/>
<line x1="156.30" y1="418.00" x2="156.30" y2="432.40" stroke="#000" stroke-width="1.45" />
<line x1="152.30" y1="418.00" x2="160.30" y2="418.00" stroke="#000" stroke-width="1.45" />
<line x1="156.30" y1="465.90" x2="156.30" y2="476.80" stroke="#000" stroke-width="1.45" />
<line x1="152.30" y1="476.80" x2="160.30" y2="476.80" stroke="#000" stroke-width="1.45" />
<rect x="148.30" y="432.40" width="16.00" height="33.50" fill="none" stroke="#000" stroke-width="1.45"/>
<line x1="148.30" y1="447.60" x2="164.30" y2="447.60" stroke="#000" stroke-width="1.45" />
<rect x="154.60" y="416.30" width="3.40" height="3.40" fill="#000"/>
<rect x="154.60" y="435.30" width="3.40" height="3.40" fill="#000"/>
<rect x="154.60" y="439.80" width="3.40" height="3.40" fill="#000"/>
<rect x="154.60" y="451.80" width="3.40" height="3.40" fill="#000"/>
<rect x="154.60" y="462.30" width="3.40" height="3.40" fill="#000"/>
<rect x="154.60" y="475.10" width="3.40" height="3.40" fill="#000"/>
<line x1="189.80" y1="487.30" x2="189.80" y2="494.80" stroke="#000" stroke-width="1.45" />
<line x1="185.60" y1="487.30" x2="194.00" y2="487.30" stroke="#000" stroke-width="1.45" />
<rect x="182.30" y="494.80" width="15.00" height="8.50" fill="none" stroke="#000" stroke-width="1.45"/>
<line x1="182.30" y1="501.20" x2="197.30" y2="501.20" stroke="#000" stroke-width="1.45" />
<circle cx="185.80" cy="502.30" r="1.85" fill="#000"/>
<circle cx="189.80" cy="502.50" r="1.85" fill="#000"/>
<circle cx="193.80" cy="502.30" r="1.85" fill="#000"/>
<polygon points="186.30,497.00 184.70,499.88 187.90,499.88" fill="#000"/>
<line x1="214.80" y1="494.40" x2="214.80" y2="497.40" stroke="#000" stroke-width="1.45" />
<line x1="210.80" y1="494.40" x2="218.80" y2="494.40" stroke="#000" stroke-width="1.45" />
<rect x="206.80" y="497.40" width="16.00" height="6.20" fill="none" stroke="#000" stroke-width="1.45"/>
<line x1="206.80" y1="500.50" x2="222.80" y2="500.50" stroke="#000" stroke-width="1.45" />
<circle cx="212.80" cy="494.80" r="1.85" fill="#000"/>
<circle cx="209.30" cy="498.60" r="1.85" fill="#000"/>
<circle cx="212.30" cy="499.20" r="1.85" fill="#000"/>
<circle cx="215.30" cy="498.80" r="1.85" fill="#000"/>
<circle cx="218.30" cy="499.40" r="1.85" fill="#000"/>
<circle cx="220.80" cy="499.00" r="1.85" fill="#000"/>
<circle cx="209.80" cy="502.20" r="1.85" fill="#000"/>
<circle cx="212.80" cy="501.80" r="1.85" fill="#000"/>
<circle cx="215.80" cy="502.40" r="1.85" fill="#000"/>
<circle cx="219.30" cy="502.00" r="1.85" fill="#000"/>
<rect x="231.80" y="499.60" width="15.20" height="3.80" fill="none" stroke="#000" stroke-width="1.45"/>
<line x1="231.80" y1="501.40" x2="247.00" y2="501.40" stroke="#000" stroke-width="1.45" />
<polygon points="234.40,499.60 232.40,503.20 236.40,503.20" fill="#000"/>
<polygon points="237.40,499.00 235.40,502.60 239.40,502.60" fill="#000"/>
<polygon points="240.40,499.40 238.40,503.00 242.40,503.00" fill="#000"/>
<polygon points="243.40,499.00 241.40,502.60 245.40,502.60" fill="#000"/>
<polygon points="239.40,500.50 237.40,504.10 241.40,504.10" fill="#000"/>
<line x1="264.60" y1="483.60" x2="264.60" y2="492.80" stroke="#000" stroke-width="1.45" />
<line x1="260.60" y1="483.60" x2="268.60" y2="483.60" stroke="#000" stroke-width="1.45" />
<rect x="256.60" y="492.80" width="16.00" height="10.80" fill="none" stroke="#000" stroke-width="1.45"/>
<line x1="256.60" y1="498.10" x2="272.60" y2="498.10" stroke="#000" stroke-width="1.45" />
<rect x="262.90" y="481.90" width="3.40" height="3.40" fill="#000"/>
<rect x="259.90" y="496.40" width="3.40" height="3.40" fill="#000"/>
<rect x="265.90" y="495.80" width="3.40" height="3.40" fill="#000"/>
<rect x="258.90" y="500.80" width="3.40" height="3.40" fill="#000"/>
<rect x="266.90" y="500.80" width="3.40" height="3.40" fill="#000"/>
<rect x="262.90" y="492.80" width="3.40" height="3.40" fill="#000"/>
<line x1="65.00" y1="409.30" x2="65.00" y2="507.90" stroke="#000" stroke-width="1.22" />
<line x1="64.40" y1="507.30" x2="282.50" y2="507.30" stroke="#000" stroke-width="1.22" />
<line x1="60.60" y1="409.90" x2="65.00" y2="409.90" stroke="#000" stroke-width="1.22" />
<text x="58.50" y="413.68" font-size="10.5" font-weight="bold" text-anchor="end" >400</text>
<line x1="60.60" y1="434.25" x2="65.00" y2="434.25" stroke="#000" stroke-width="1.22" />
<text x="58.50" y="438.03" font-size="10.5" font-weight="bold" text-anchor="end" >300</text>
<line x1="60.60" y1="458.60" x2="65.00" y2="458.60" stroke="#000" stroke-width="1.22" />
<text x="58.50" y="462.38" font-size="10.5" font-weight="bold" text-anchor="end" >200</text>
<line x1="60.60" y1="482.95" x2="65.00" y2="482.95" stroke="#000" stroke-width="1.22" />
<text x="58.50" y="486.73" font-size="10.5" font-weight="bold" text-anchor="end" >100</text>
<line x1="60.60" y1="507.30" x2="65.00" y2="507.30" stroke="#000" stroke-width="1.22" />
<text x="58.50" y="511.08" font-size="10.5" font-weight="bold" text-anchor="end" >0</text>
<line x1="81.50" y1="507.30" x2="81.50" y2="511.70" stroke="#000" stroke-width="1.22" />
<line x1="106.20" y1="507.30" x2="106.20" y2="511.70" stroke="#000" stroke-width="1.22" />
<line x1="131.50" y1="507.30" x2="131.50" y2="511.70" stroke="#000" stroke-width="1.22" />
<line x1="156.30" y1="507.30" x2="156.30" y2="511.70" stroke="#000" stroke-width="1.22" />
<line x1="189.80" y1="507.30" x2="189.80" y2="511.70" stroke="#000" stroke-width="1.22" />
<line x1="214.80" y1="507.30" x2="214.80" y2="511.70" stroke="#000" stroke-width="1.22" />
<line x1="239.40" y1="507.30" x2="239.40" y2="511.70" stroke="#000" stroke-width="1.22" />
<line x1="264.60" y1="507.30" x2="264.60" y2="511.70" stroke="#000" stroke-width="1.22" />
<text x="120.10" y="405.10" font-size="17" font-weight="bold" text-anchor="middle" style="stroke-width:0.1px" letter-spacing="0.3">**</text>
<line x1="81.20" y1="401.20" x2="156.40" y2="401.20" stroke="#000" stroke-width="1.4" />
<text x="142.60" y="410.60" font-size="8.7" font-weight="normal" text-anchor="middle" style="stroke-width:0.25px">##</text>
<line x1="128.90" y1="413.90" x2="156.30" y2="413.90" stroke="#000" stroke-width="1.4" />
<text x="93.10" y="457.80" font-size="17" font-weight="bold" text-anchor="middle" style="stroke-width:0.1px" letter-spacing="0.3">*</text>
<line x1="79.20" y1="454.90" x2="106.80" y2="454.90" stroke="#000" stroke-width="1.4" />
<text x="215.40" y="486.00" font-size="8.4" font-weight="bold" text-anchor="middle" >$$$</text>
<text x="264.80" y="475.60" font-size="8.4" font-weight="bold" text-anchor="middle" >$$$$</text>
<text x="58.30" y="529.38" font-size="10.5" font-weight="normal" text-anchor="end" >E2</text>
<line x1="79.10" y1="525.60" x2="83.90" y2="525.60" stroke="#202020" stroke-width="0.95" />
<line x1="103.80" y1="525.60" x2="108.60" y2="525.60" stroke="#202020" stroke-width="0.95" />
<line x1="106.20" y1="523.20" x2="106.20" y2="528.00" stroke="#202020" stroke-width="0.95" />
<line x1="129.10" y1="525.60" x2="133.90" y2="525.60" stroke="#202020" stroke-width="0.95" />
<line x1="153.90" y1="525.60" x2="158.70" y2="525.60" stroke="#202020" stroke-width="0.95" />
<line x1="156.30" y1="523.20" x2="156.30" y2="528.00" stroke="#202020" stroke-width="0.95" />
<line x1="187.40" y1="525.60" x2="192.20" y2="525.60" stroke="#202020" stroke-width="0.95" />
<line x1="212.40" y1="525.60" x2="217.20" y2="525.60" stroke="#202020" stroke-width="0.95" />
<line x1="214.80" y1="523.20" x2="214.80" y2="528.00" stroke="#202020" stroke-width="0.95" />
<line x1="237.00" y1="525.60" x2="241.80" y2="525.60" stroke="#202020" stroke-width="0.95" />
<line x1="262.20" y1="525.60" x2="267.00" y2="525.60" stroke="#202020" stroke-width="0.95" />
<line x1="264.60" y1="523.20" x2="264.60" y2="528.00" stroke="#202020" stroke-width="0.95" />
<text x="58.30" y="544.18" font-size="10.5" font-weight="normal" text-anchor="end" >LMHFV</text>
<line x1="79.10" y1="540.40" x2="83.90" y2="540.40" stroke="#202020" stroke-width="0.95" />
<line x1="103.80" y1="540.40" x2="108.60" y2="540.40" stroke="#202020" stroke-width="0.95" />
<line x1="129.10" y1="540.40" x2="133.90" y2="540.40" stroke="#202020" stroke-width="0.95" />
<line x1="131.50" y1="538.00" x2="131.50" y2="542.80" stroke="#202020" stroke-width="0.95" />
<line x1="153.90" y1="540.40" x2="158.70" y2="540.40" stroke="#202020" stroke-width="0.95" />
<line x1="156.30" y1="538.00" x2="156.30" y2="542.80" stroke="#202020" stroke-width="0.95" />
<line x1="187.40" y1="540.40" x2="192.20" y2="540.40" stroke="#202020" stroke-width="0.95" />
<line x1="212.40" y1="540.40" x2="217.20" y2="540.40" stroke="#202020" stroke-width="0.95" />
<line x1="237.00" y1="540.40" x2="241.80" y2="540.40" stroke="#202020" stroke-width="0.95" />
<line x1="239.40" y1="538.00" x2="239.40" y2="542.80" stroke="#202020" stroke-width="0.95" />
<line x1="262.20" y1="540.40" x2="267.00" y2="540.40" stroke="#202020" stroke-width="0.95" />
<line x1="264.60" y1="538.00" x2="264.60" y2="542.80" stroke="#202020" stroke-width="0.95" />
</svg>
</body></html>
